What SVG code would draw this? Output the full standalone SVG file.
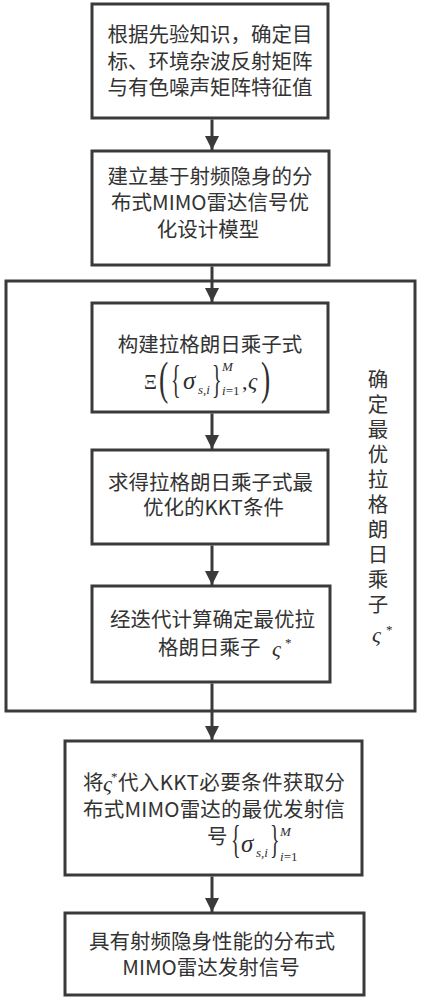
<svg xmlns="http://www.w3.org/2000/svg" width="421" height="1000" viewBox="0 0 421 1000">
<style>
.box{fill:#fff;stroke:#3a3a3a;stroke-width:3}
.cn{font-family:"Noto Sans CJK SC","Noto Sans",sans-serif;font-size:20.5px;fill:#333}
.m{font-family:"Liberation Serif",serif;fill:#2e2e2e}
.mi{font-family:"Liberation Serif",serif;font-style:italic;fill:#2e2e2e}
.conn{stroke:#3a3a3a;stroke-width:3;fill:none}
</style>
<defs>
<marker id="ah" markerUnits="userSpaceOnUse" markerWidth="14" markerHeight="14" refX="14" refY="7" orient="auto" viewBox="0 0 14 14">
<path d="M0,0 L14,7 L0,14 Z" fill="#3a3a3a"/>
</marker>
</defs>
<rect width="421" height="1000" fill="#fff"/>

<g id="outer">
<rect class="box" x="6" y="281" width="409" height="430"/>
<text class="cn" text-anchor="middle"><tspan x="378" y="387">确</tspan><tspan x="378" y="412">定</tspan><tspan x="378" y="437">最</tspan><tspan x="378" y="462">优</tspan><tspan x="378" y="487">拉</tspan><tspan x="378" y="512">格</tspan><tspan x="378" y="537">朗</tspan><tspan x="378" y="562">日</tspan><tspan x="378" y="587">乘</tspan><tspan x="378" y="612">子</tspan></text>
<text class="mi" x="372" y="642" font-size="22">ς</text>
<text class="m" x="386" y="634" font-size="13">*</text>
</g>

<g id="n1">
<rect class="box" x="92" y="4" width="236" height="114"/>
<text class="cn" text-anchor="middle"><tspan x="210" y="42">根据先验知识，确定目</tspan><tspan x="210" y="69">标、环境杂波反射矩阵</tspan><tspan x="210" y="95">与有色噪声矩阵特征值</tspan></text>
</g>

<g id="n2">
<rect class="box" x="92" y="151" width="237" height="114"/>
<text class="cn" text-anchor="middle"><tspan x="210" y="184">建立基于射频隐身的分</tspan><tspan x="210" y="210">布式MIMO雷达信号优</tspan><tspan x="208" y="237">化设计模型</tspan></text>
</g>

<g id="n3">
<rect class="box" x="92" y="303" width="236" height="109"/>
<text class="cn" x="210" y="352" text-anchor="middle">构建拉格朗日乘子式</text>
<text class="m" x="144" y="389" font-size="20">Ξ</text>
<text class="m" font-size="46" transform="translate(159,394) scale(0.6,1)">(</text>
<text class="m" font-size="40" transform="translate(171,393) scale(0.5,1)">{</text>
<text class="mi" x="183" y="389" font-size="25">σ</text>
<text class="mi" x="198" y="394" font-size="13">s,i</text>
<text class="m" font-size="40" transform="translate(212,393) scale(0.5,1)">}</text>
<text class="mi" x="222" y="371" font-size="13">M</text>
<text class="mi" x="222" y="395" font-size="13">i<tspan class="m" font-style="normal">=1</tspan></text>
<text class="m" x="242" y="389" font-size="22">,</text>
<text class="mi" x="248" y="389" font-size="23">ς</text>
<text class="m" font-size="46" transform="translate(261,394) scale(0.6,1)">)</text>
</g>

<g id="n4">
<rect class="box" x="92" y="450" width="236" height="94"/>
<text class="cn"><tspan x="108" y="490">求得拉格朗日乘子式最</tspan><tspan x="143" y="515">优化的KKT条件</tspan></text>
</g>

<g id="n5">
<rect class="box" x="92" y="586" width="238" height="96"/>
<text class="cn"><tspan x="110" y="627">经迭代计算确定最优拉</tspan><tspan x="158" y="655">格朗日乘子</tspan></text>
<text class="mi" x="272" y="656" font-size="22">ς</text>
<text class="m" x="285" y="647" font-size="13">*</text>
</g>

<g id="n6">
<rect class="box" x="65" y="741" width="297" height="134"/>
<text class="cn" x="83" y="790">将</text>
<text class="mi" x="103" y="791" font-size="22">ς</text>
<text class="m" x="111" y="781" font-size="13">*</text>
<text class="cn" x="118" y="790" textLength="227" lengthAdjust="spacing">代入KKT必要条件获取分</text>
<text class="cn" x="83" y="817" textLength="262" lengthAdjust="spacing">布式MIMO雷达的最优发射信</text>
<text class="cn" x="207" y="844">号</text>
<text class="m" font-size="40" transform="translate(231,853) scale(0.5,1)">{</text>
<text class="mi" x="241" y="852" font-size="25">σ</text>
<text class="mi" x="256" y="857" font-size="13">s,i</text>
<text class="m" font-size="40" transform="translate(270,853) scale(0.5,1)">}</text>
<text class="mi" x="280" y="836" font-size="13">M</text>
<text class="mi" x="280" y="861" font-size="13">i<tspan class="m" font-style="normal">=1</tspan></text>
</g>

<g id="n7">
<rect class="box" x="65" y="913" width="299" height="82"/>
<text class="cn" text-anchor="middle"><tspan x="212" y="949">具有射频隐身性能的分布式</tspan><tspan x="211" y="975">MIMO雷达发射信号</tspan></text>
</g>

<g id="connectors">
<line class="conn" x1="212" y1="119.5" x2="212" y2="150" marker-end="url(#ah)"/>
<line class="conn" x1="212" y1="266.5" x2="212" y2="302" marker-end="url(#ah)"/>
<line class="conn" x1="212" y1="413.5" x2="212" y2="449" marker-end="url(#ah)"/>
<line class="conn" x1="212" y1="545.5" x2="212" y2="585" marker-end="url(#ah)"/>
<line class="conn" x1="212" y1="683.5" x2="212" y2="740" marker-end="url(#ah)"/>
<line class="conn" x1="212" y1="876.5" x2="212" y2="912" marker-end="url(#ah)"/>
</g>
</svg>
